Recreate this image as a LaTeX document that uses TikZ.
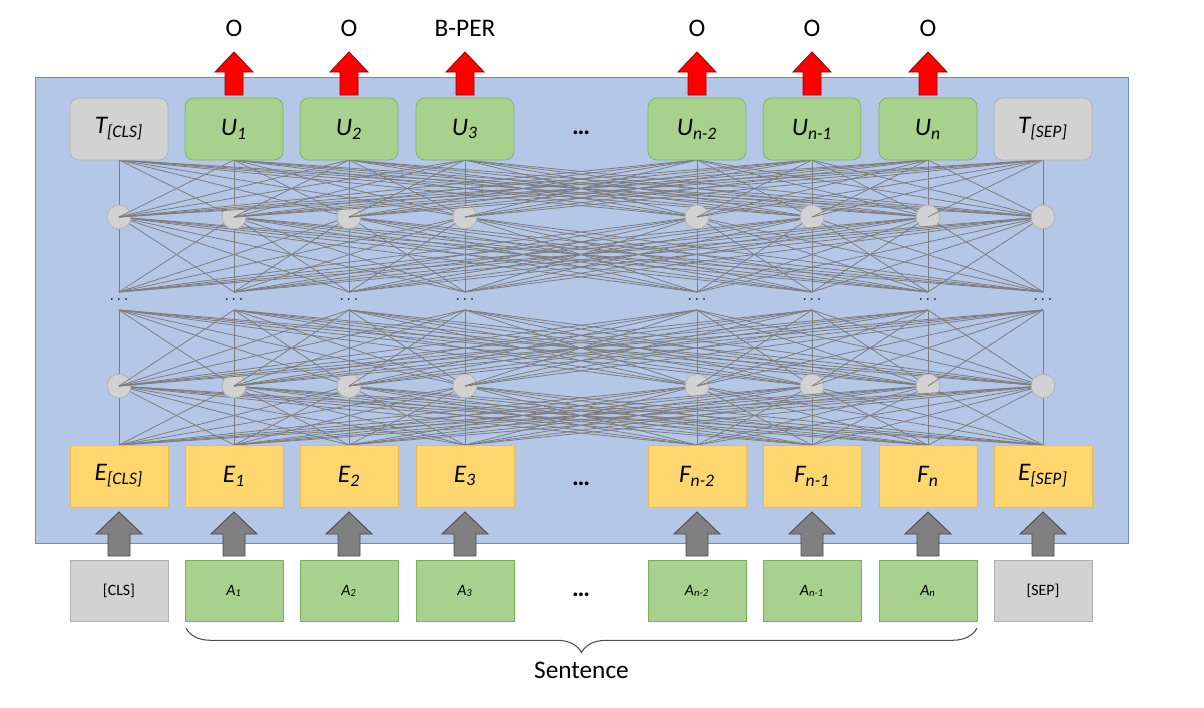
\documentclass[tikz,border=0pt]{standalone}
\usepackage{fontspec}
\setmainfont{Carlito}
\usetikzlibrary{decorations.pathreplacing}
\definecolor{bgblue}{RGB}{180,199,231}
\definecolor{bgborder}{RGB}{110,140,195}
\definecolor{gfill}{RGB}{169,209,142}
\definecolor{gborder}{RGB}{120,175,95}
\definecolor{grfill}{RGB}{210,210,210}
\definecolor{grborder}{RGB}{175,175,175}
\definecolor{ofill}{RGB}{255,215,110}
\definecolor{oborder}{RGB}{235,185,80}
\definecolor{wire}{RGB}{125,125,125}
\begin{document}
\begin{tikzpicture}[x=0.02cm,y=-0.02cm,
  box/.style={minimum width=1.96cm,minimum height=1.24cm,inner sep=0pt,font=\Large\itshape},
  topg/.style={box,rounded corners=5pt,fill=gfill,draw=gborder},
  topgr/.style={box,rounded corners=5pt,fill=grfill,draw=grborder},
  emb/.style={box,fill=ofill,draw=oborder},
  inp/.style={box,fill=gfill,draw=gborder,minimum height=1.22cm,font=\small\itshape},
  inpgr/.style={box,fill=grfill,draw=grborder,minimum height=1.22cm,font=\small},
  neuron/.style={circle,fill=grfill,draw=grborder,minimum size=0.48cm,inner sep=0pt},
  wires/.style={draw=wire,line width=0.45pt},
  redarrow/.style={fill=red,draw=red!60!black,line width=0.5pt},
  grayarrow/.style={fill=gray,draw=black!70,line width=0.5pt},
  lab/.style={font=\Large}]
\useasboundingbox (0,0) rectangle (1204,707);
\fill[bgblue,draw=bgborder] (35,77) rectangle (1128,543);
\def\cols{1/119,2/234,3/349,4/465,5/697,6/812,7/928,8/1043}
% wires
\foreach \i/\x in \cols {
  \coordinate (t\i) at (\x,160);
  \coordinate (c\i) at (\x,217);
  \coordinate (da\i) at (\x,292);
  \coordinate (db\i) at (\x,310);
  \coordinate (d\i) at (\x,386);
  \coordinate (e\i) at (\x,445);
}
\foreach \i/\x in \cols {
  \foreach \j/\y in \cols {
    \draw[wires] (t\i) -- (c\j);
    \draw[wires] (c\i) -- (da\j);
    \draw[wires] (db\i) -- (d\j);
    \draw[wires] (d\i) -- (e\j);
  }
  \node[neuron] (n\i) at (c\i) {};
  \node[neuron] (m\i) at (d\i) {};
  \node[fill=bgblue,inner sep=1pt,font=\small] (dd\i) at (\x,300) {$\cdots$};
}
% top boxes
\node[topgr] (T0) at (119,129) {T\textsubscript{[CLS]}};
\node[topg] (U1) at (234,129) {U\textsubscript{1}};
\node[topg] (U2) at (349,129) {U\textsubscript{2}};
\node[topg] (U3) at (465,129) {U\textsubscript{3}};
\node[topg] (U4) at (697,129) {U\textsubscript{n-2}};
\node[topg] (U5) at (812,129) {U\textsubscript{n-1}};
\node[topg] (U6) at (928,129) {U\textsubscript{n}};
\node[topgr] (T9) at (1043,129) {T\textsubscript{[SEP]}};
\node[font=\Large\bfseries] (tdots) at (581,133) {\dots};
% embeddings
\node[emb] (E0) at (119,476) {E\textsubscript{[CLS]}};
\node[emb] (E1) at (234,476) {E\textsubscript{1}};
\node[emb] (E2) at (349,476) {E\textsubscript{2}};
\node[emb] (E3) at (465,476) {E\textsubscript{3}};
\node[emb] (F4) at (697,476) {F\textsubscript{n-2}};
\node[emb] (F5) at (812,476) {F\textsubscript{n-1}};
\node[emb] (F6) at (928,476) {F\textsubscript{n}};
\node[emb] (E9) at (1043,476) {E\textsubscript{[SEP]}};
\node[font=\Large\bfseries] (edots) at (581,484) {\dots};
% inputs
\node[inpgr] (A0) at (119,591) {[CLS]};
\node[inp] (A1) at (234,591) {A\textsubscript{1}};
\node[inp] (A2) at (349,591) {A\textsubscript{2}};
\node[inp] (A3) at (465,591) {A\textsubscript{3}};
\node[inp] (A4) at (697,591) {A\textsubscript{n-2}};
\node[inp] (A5) at (812,591) {A\textsubscript{n-1}};
\node[inp] (A6) at (928,591) {A\textsubscript{n}};
\node[inpgr] (A9) at (1043,591) {[SEP]};
\node[font=\Large\bfseries] (adots) at (581,595) {\dots};
% gray input arrows
\foreach \x in {119,234,349,465,697,812,928,1043}
  \draw[grayarrow] (\x-11,556) -- (\x-11,534) -- (\x-23,534) -- (\x,512) -- (\x+23,534) -- (\x+11,534) -- (\x+11,556) -- cycle;
% red output arrows and labels
\foreach \x/\t in {234/O,349/O,465/B-PER,697/O,812/O,928/O} {
  \draw[redarrow] (\x-9,95) -- (\x-9,72) -- (\x-19,72) -- (\x,52) -- (\x+19,72) -- (\x+9,72) -- (\x+9,95) -- cycle;
  \node[lab] at (\x,28) {\t};
}
% brace
\coordinate (bl) at (186,628);
\coordinate (br) at (977,628);
\draw[decorate,decoration={brace,mirror,amplitude=14pt},draw=black!70,line width=0.6pt] (bl) -- (br) node[midway,below=16pt,font=\Large] (sent) {Sentence};
\end{tikzpicture}
\end{document}
